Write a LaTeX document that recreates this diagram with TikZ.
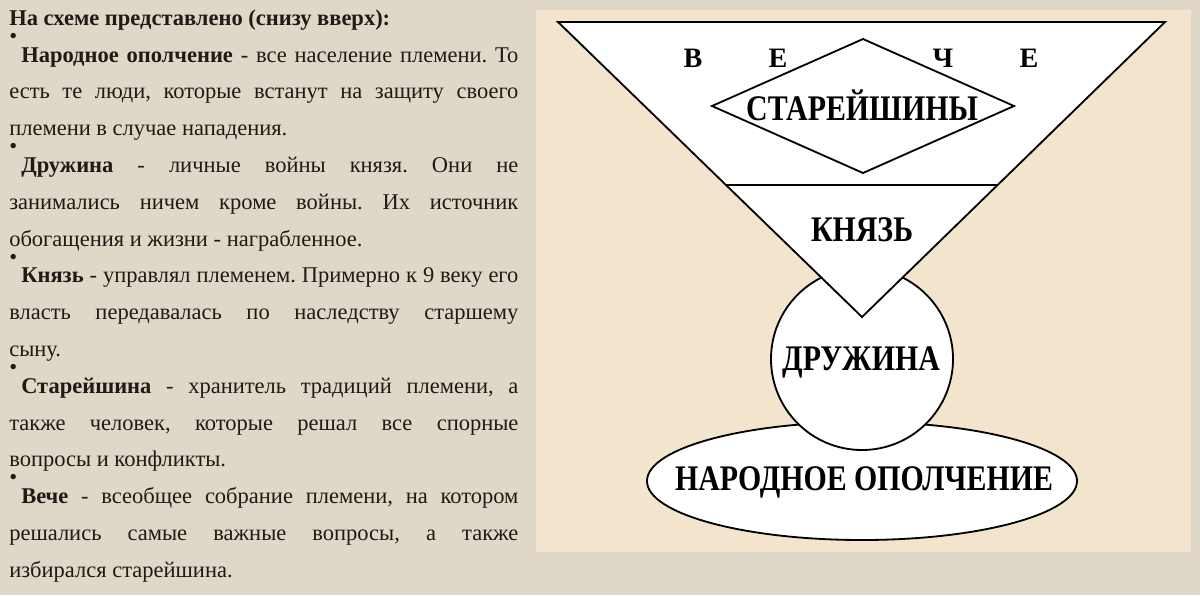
\documentclass[tikz,border=0pt]{standalone}
\usepackage{fontspec}
\setmainfont{Liberation Serif}
\usetikzlibrary{calc}

\definecolor{linen}{RGB}{223,216,200}
\definecolor{cream}{RGB}{243,228,206}
\definecolor{ink}{RGB}{30,26,22}

\newcommand\notebullet{\makebox[0.3cm][l]{\smash{\raisebox{0.47cm}{\textbullet}}}}
\newcommand\fullline[1]{\hbox to\hsize{#1}}
\newcommand\shortline[1]{\hbox{#1}}
\newcommand\narrowcaps[1]{\scalebox{0.83}[1]{#1}}
\hbadness=10000
\frenchspacing

\tikzset{
  shape line/.style={draw=black, line width=1.3pt, fill=white},
  scheme label/.style={font=\bfseries\fontsize{25.6pt}{28pt}\selectfont},
  veche letter/.style={font=\bfseries\fontsize{20pt}{22pt}\selectfont},
  notes text/.style={text=ink, inner sep=0, anchor=north west, font=\fontsize{16pt}{0.92cm}\selectfont}
}

\begin{document}
\begin{tikzpicture}[x=0.025cm,y=-0.025cm]
 \useasboundingbox (0,0) rectangle (1200,595);
 \fill[linen] (0,0) rectangle (1200,595);
 \fill[cream] (536,10) rectangle (1191,552);

 \node[notes text] (notes) at (9,-0.8) {\vbox{\hsize=12.725cm
  \shortline{\strut\textbf{На схеме представлено (снизу вверх):}}
  \fullline{\notebullet\textbf{Народное ополчение} - все население племени. То}
  \fullline{есть те люди, которые встанут на защиту своего}
  \shortline{племени в случае нападения.}
  \fullline{\notebullet\textbf{Дружина} - личные войны князя. Они не}
  \fullline{занимались ничем кроме войны. Их источник}
  \shortline{обогащения и жизни - награбленное.}
  \fullline{\notebullet\textbf{Князь} - управлял племенем. Примерно к 9 веку его}
  \fullline{власть передавалась по наследству старшему}
  \shortline{сыну.}
  \fullline{\notebullet\textbf{Старейшина} - хранитель традиций племени, а}
  \fullline{также человек, которые решал все спорные}
  \shortline{вопросы и конфликты.}
  \fullline{\notebullet\textbf{Вече} - всеобщее собрание племени, на котором}
  \fullline{решались самые важные вопросы, а также}
  \shortline{избирался старейшина.}}};

 \filldraw[shape line] (862,481) ellipse [x radius=215, y radius=59];
 \node[scheme label] (folk) at (864,482) {\narrowcaps{НАРОДНОЕ ОПОЛЧЕНИЕ}};

 \filldraw[shape line] (862,359) circle [radius=91];
 \node[scheme label] (druzhina) at (861,362) {\narrowcaps{ДРУЖИНА}};

 \coordinate (tl) at (558,22);
 \coordinate (tr) at (1165,22);
 \coordinate (apex) at (862,317);
 \filldraw[shape line] (tl) -- (tr) -- (apex) -- cycle;
 \draw[line width=1.3pt] ($(tl)!0.5525!(apex)$) -- ($(tr)!0.5525!(apex)$);
 \node[scheme label] (knyaz) at (862,230) {\narrowcaps{КНЯЗЬ}};

 \draw[line width=1.3pt, fill=white] (863,39) -- (1014,106) -- (863,173) -- (712,106) -- cycle;
 \node[scheme label] (elders) at (862,105) {\narrowcaps{СТАРЕЙШИНЫ}};

 \node[veche letter] (veche-v) at (693,58.5) {В};
 \node[veche letter] (veche-e) at (778,58.5) {Е};
 \node[veche letter] (veche-ch) at (943,58.5) {Ч};
 \node[veche letter] (veche-e2) at (1029,58.5) {Е};
\end{tikzpicture}
\end{document}
